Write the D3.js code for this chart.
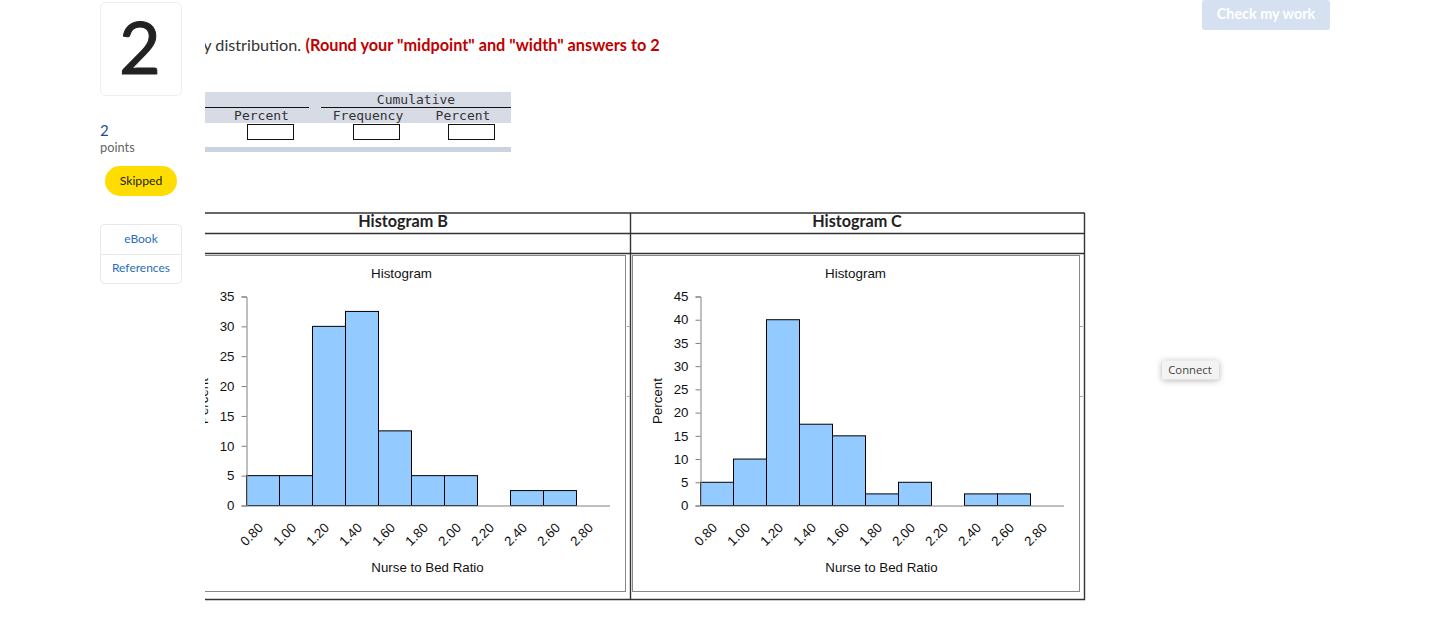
<!DOCTYPE html>
<html>
<head>
<meta charset="utf-8">
<script src="https://cdn.jsdelivr.net/npm/d3@7"></script>
<style>
  html, body { margin: 0; padding: 0; background: #fff; overflow: hidden; }
  svg { display: block; }
  .ui { font-family: Lato, "Open Sans", sans-serif; }
  .mono { font-family: "DejaVu Sans Mono", monospace; font-size: 13px; fill: #333; }
  .chart text { font-family: "Liberation Sans", Arial, sans-serif; fill: #111; }
</style>
</head>
<body>
<svg id="page" width="1440" height="619"></svg>
<script>
const bins = ['0.80', '1.00', '1.20', '1.40', '1.60', '1.80', '2.00', '2.20', '2.40', '2.60', '2.80'];
const percentB = [5, 5, 30, 32.5, 12.5, 5, 5, 0, 2.5, 2.5, 0];
const percentC = [5, 10, 40, 17.5, 15, 2.5, 5, 0, 2.5, 2.5, 0];
const ticksB = [0, 5, 10, 15, 20, 25, 30, 35];
const ticksC = [0, 5, 10, 15, 20, 25, 30, 35, 40, 45];

const svg = d3.select('#page');

svg.append('defs').append('clipPath').attr('id', 'cut')
  .append('rect').attr('x', 205).attr('y', 0).attr('width', 1235).attr('height', 619);

// left column
svg.append('rect').attr('x', 100.5).attr('y', 2.5).attr('width', 81).attr('height', 93).attr('rx', 5)
  .attr('fill', '#fff').attr('stroke', '#eceef0');
svg.append('text').attr('class', 'ui').attr('x', 140).attr('y', 74).attr('text-anchor', 'middle')
  .attr('font-size', 72).attr('fill', '#222').attr('stroke', '#222').attr('stroke-width', 1).text('2');
svg.append('text').attr('class', 'ui').attr('x', 100).attr('y', 136).attr('font-size', 15).attr('fill', '#1c4f91').text('2');
svg.append('text').attr('class', 'ui').attr('x', 100).attr('y', 152).attr('font-size', 12.8).attr('fill', '#666').text('points');
svg.append('rect').attr('x', 105).attr('y', 166).attr('width', 72).attr('height', 30).attr('rx', 15).attr('fill', '#ffdd00');
svg.append('text').attr('class', 'ui').attr('x', 141).attr('y', 185).attr('text-anchor', 'middle')
  .attr('font-size', 12.2).attr('fill', '#222').text('Skipped');

svg.append('rect').attr('x', 100.5).attr('y', 224.5).attr('width', 81).attr('height', 59).attr('rx', 4)
  .attr('fill', '#fff').attr('stroke', '#e6e8ea');
svg.append('line').attr('x1', 101).attr('x2', 181).attr('y1', 254.5).attr('y2', 254.5).attr('stroke', '#e6e8ea');
svg.append('text').attr('class', 'ui').attr('x', 141).attr('y', 243).attr('text-anchor', 'middle')
  .attr('font-size', 12).attr('fill', '#2a6ebb').text('eBook');
svg.append('text').attr('class', 'ui').attr('x', 141).attr('y', 272).attr('text-anchor', 'middle')
  .attr('font-size', 12).attr('fill', '#2a6ebb').text('References');

// question text, cut on the left
svg.append('text').attr('class', 'ui').attr('clip-path', 'url(#cut)')
  .attr('x', 301).attr('y', 51).attr('font-size', 16.2).attr('text-anchor', 'end')
  .attr('fill', '#333').text('cy distribution.');
svg.append('text').attr('class', 'ui').attr('x', 305.5).attr('y', 51).attr('font-size', 16.3)
  .attr('font-weight', 700).attr('fill', '#c00000').text('(Round your "midpoint" and "width" answers to 2');

// button + connect
svg.append('rect').attr('x', 1202).attr('y', 0).attr('width', 128).attr('height', 30).attr('rx', 3).attr('fill', '#d5e1f0');
svg.append('text').attr('class', 'ui').attr('x', 1266).attr('y', 19).attr('text-anchor', 'middle')
  .attr('font-size', 14.4).attr('font-weight', 700).attr('fill', '#fff').text('Check my work');
svg.append('rect').attr('x', 1162).attr('y', 360.5).attr('width', 57).attr('height', 19).attr('rx', 2)
  .attr('fill', '#f3f3f3').style('filter', 'drop-shadow(0 1px 3px rgba(0,0,0,0.3))');
svg.append('text').attr('x', 1190).attr('y', 374).attr('text-anchor', 'middle')
  .attr('font-family', '"Open Sans", sans-serif').attr('font-size', 11.3).attr('fill', '#444').text('Connect');

// small data table
const table = svg.append('g');
table.append('rect').attr('x', 205).attr('y', 92).attr('width', 306).attr('height', 31).attr('fill', '#d6dbe6');
table.append('rect').attr('x', 205).attr('y', 147).attr('width', 306).attr('height', 5).attr('fill', '#ccd3e0');
table.append('line').attr('x1', 205).attr('x2', 309).attr('y1', 107.5).attr('y2', 107.5).attr('stroke', '#111');
table.append('line').attr('x1', 321).attr('x2', 511).attr('y1', 107.5).attr('y2', 107.5).attr('stroke', '#111');
table.append('text').attr('class', 'mono').attr('x', 416).attr('y', 104).attr('text-anchor', 'middle').text('Cumulative');
table.selectAll('.head').data([['Percent', 261.5], ['Frequency', 368], ['Percent', 463]]).enter().append('text')
  .attr('class', 'mono head').attr('x', d => d[1]).attr('y', 120).attr('text-anchor', 'middle').text(d => d[0]);
table.selectAll('.box').data([247.5, 353.5, 448.5]).enter().append('rect')
  .attr('class', 'box').attr('x', d => d).attr('y', 124.5).attr('width', 46).attr('height', 15)
  .attr('fill', '#fff').attr('stroke', '#111');

// frame around the histograms
const frame = svg.append('g').attr('clip-path', 'url(#cut)');
frame.selectAll('.hl').data([213, 233.5, 253.5]).enter().append('line').attr('class', 'hl')
  .attr('x1', 205).attr('x2', 1084).attr('y1', d => d).attr('y2', d => d)
  .attr('stroke', '#333').attr('stroke-width', 1.4);
frame.append('line').attr('x1', 205).attr('x2', 1085).attr('y1', 599.5).attr('y2', 599.5).attr('stroke', '#333').attr('stroke-width', 1.6);
frame.append('line').attr('x1', 630.5).attr('x2', 630.5).attr('y1', 213).attr('y2', 600).attr('stroke', '#333').attr('stroke-width', 1.4);
frame.append('line').attr('x1', 1084.5).attr('x2', 1084.5).attr('y1', 212.5).attr('y2', 600).attr('stroke', '#333').attr('stroke-width', 1.4);
frame.append('rect').attr('x', 190).attr('y', 255.5).attr('width', 435.5).attr('height', 336).attr('fill', 'none').attr('stroke', '#888');
frame.append('rect').attr('x', 632.5).attr('y', 255.5).attr('width', 447).attr('height', 336).attr('fill', 'none').attr('stroke', '#888');
frame.selectAll('.nick').data([[627, 326.5], [627, 396.5], [1080, 326.5], [1080, 396.5]]).enter().append('line')
  .attr('x1', d => d[0]).attr('x2', d => d[0] + 3).attr('y1', d => d[1]).attr('y2', d => d[1]).attr('stroke', '#aaa');

svg.append('text').attr('class', 'ui').attr('x', 403).attr('y', 227).attr('text-anchor', 'middle')
  .attr('font-size', 16.2).attr('font-weight', 700).attr('fill', '#222').text('Histogram B');
svg.append('text').attr('class', 'ui').attr('x', 857).attr('y', 227).attr('text-anchor', 'middle')
  .attr('font-size', 16.2).attr('font-weight', 700).attr('fill', '#222').text('Histogram C');

function drawHistogram(values, ticks, left, titleX) {
  const g = svg.append('g').attr('class', 'chart').attr('clip-path', 'url(#cut)');
  const x = d3.scaleBand().domain(bins).range([left, left + 363]);
  const y = d3.scaleLinear().domain([0, d3.max(ticks)]).range([505.5, 296.5]);

  g.selectAll('.bar').data(bins).enter().append('rect')
    .attr('class', 'bar')
    .attr('x', d => x(d))
    .attr('width', x.bandwidth())
    .attr('y', (d, i) => y(values[i]))
    .attr('height', (d, i) => y(0) - y(values[i]))
    .attr('fill', (d, i) => values[i] > 0 ? '#93caff' : 'none')
    .attr('stroke', (d, i) => values[i] > 0 ? '#000' : 'none');

  const yAxis = g.append('g').attr('transform', `translate(${left},0)`)
    .call(d3.axisLeft(y).tickValues(ticks).tickSize(5).tickPadding(7));
  yAxis.selectAll('line, path').attr('stroke', '#808080');
  yAxis.selectAll('text').attr('font-size', 13.3);

  const xAxis = g.append('g').attr('transform', 'translate(0,505.5)')
    .call(d3.axisBottom(x).tickSize(0).tickPadding(0));
  xAxis.select('path').attr('stroke', '#808080');
  xAxis.selectAll('text')
    .attr('font-size', 13.3)
    .attr('text-anchor', 'end')
    .attr('dy', 0)
    .attr('transform', 'translate(1,23) rotate(-45)');

  g.append('text').attr('x', titleX).attr('y', 278).attr('text-anchor', 'middle').attr('font-size', 13.4).text('Histogram');
  g.append('text').attr('x', left + 181).attr('y', 572).attr('text-anchor', 'middle').attr('font-size', 13.3).text('Nurse to Bed Ratio');
  g.append('text').attr('transform', `translate(${left - 39},401) rotate(-90)`)
    .attr('text-anchor', 'middle').attr('font-size', 13.3).text('Percent');
}

drawHistogram(percentB, ticksB, 246.5, 401.5);
drawHistogram(percentC, ticksC, 700.5, 855.5);
</script>
</body>
</html>
